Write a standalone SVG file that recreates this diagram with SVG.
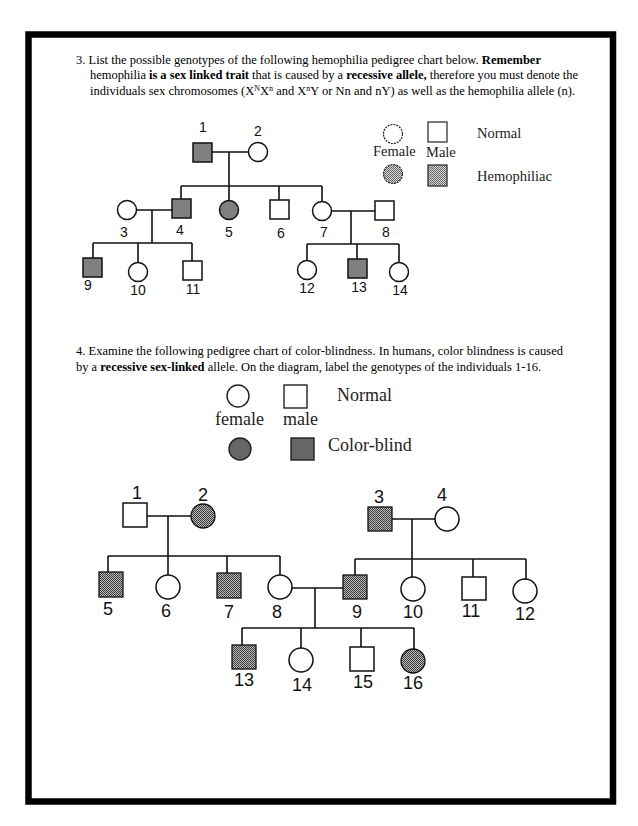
<svg xmlns="http://www.w3.org/2000/svg" width="638" height="826" viewBox="0 0 638 826">
<defs>
<pattern id="stipA" width="2" height="2" patternUnits="userSpaceOnUse"><rect width="2" height="2" fill="#bdbdbd"/><rect width="1" height="1" fill="#3a3a3a"/><rect x="1" y="1" width="1" height="1" fill="#3a3a3a"/></pattern>
<pattern id="stipB" width="2" height="2" patternUnits="userSpaceOnUse"><rect width="2" height="2" fill="#d8d8d8"/><rect width="1" height="1" fill="#666"/><rect x="1" y="1" width="1" height="1" fill="#666"/></pattern>
<style>
.t{font-family:"Liberation Serif","Times New Roman",serif;font-size:12.5px;fill:#000}
.b{font-weight:bold}
.sup{font-size:8px}
.l1{font-family:"Liberation Sans",Arial,sans-serif;font-size:14px;fill:#111;text-anchor:middle}
.l2{font-family:"Liberation Sans",Arial,sans-serif;font-size:18px;fill:#111;text-anchor:middle}
.lg1{font-family:"Liberation Serif","Times New Roman",serif;font-size:14.5px;fill:#222}
.lg2{font-family:"Liberation Serif","Times New Roman",serif;font-size:18px;fill:#222}
.sh{fill:#fff;stroke:#111;stroke-width:1.5}
.hf{fill:#808080;stroke:#111;stroke-width:1.5}
.cb{fill:url(#stipA);stroke:#111;stroke-width:1.3}
.ln{stroke:#111;stroke-width:1.6;fill:none}
</style>
</defs>
<rect width="638" height="826" fill="#fff"/>
<rect x="28.5" y="34.5" width="584.5" height="767" fill="none" stroke="#000" stroke-width="6.5"/>

<g id="q3-text">
<text class="t" x="76" y="64" textLength="465">3. List the possible genotypes of the following hemophilia pedigree chart below. <tspan class="b">Remember</tspan></text>
<text class="t" x="90" y="79" textLength="488">hemophilia <tspan class="b">is a sex linked trait</tspan> that is caused by a <tspan class="b">recessive allele,</tspan> therefore you must denote the</text>
<text class="t" x="90" y="95">individuals sex chromosomes (X<tspan class="sup" dy="-4">N</tspan><tspan dy="4">X</tspan><tspan class="sup" dy="-4">n</tspan><tspan dy="4"> and X</tspan><tspan class="sup" dy="-4">n</tspan><tspan dy="4">Y or Nn and nY) as well as the hemophilia allele (n).</tspan></text>
</g>

<g id="p1-connectors">
<path class="ln" d="M212 152H248.5M229 152V186M181 186H322M181 186V199M229 186V200.5M279 186V200M322 186V201.5"/>
<path class="ln" d="M136.5 210H172M152 210V243M93 243H192M93 243V258M138 243V262.5M192 243V261"/>
<path class="ln" d="M331.5 211H375M351 211V244M307 244H399M307 244V260.5M357 244V259M399 244V262.5"/>
</g>

<g id="p1-n1"><rect class="hf" x="193" y="143" width="19" height="19"/><text class="l1" x="203" y="132">1</text></g>
<g id="p1-n2"><circle class="sh" cx="258" cy="152" r="9.5"/><text class="l1" x="258" y="136">2</text></g>
<g id="p1-n3"><circle class="sh" cx="127" cy="210" r="9.5"/><text class="l1" x="124" y="237">3</text></g>
<g id="p1-n4"><rect class="hf" x="172" y="199" width="19" height="19"/><text class="l1" x="180" y="235">4</text></g>
<g id="p1-n5"><circle class="hf" cx="229" cy="210" r="9.5"/><text class="l1" x="229" y="237">5</text></g>
<g id="p1-n6"><rect class="sh" x="270" y="200" width="19" height="19"/><text class="l1" x="281" y="238">6</text></g>
<g id="p1-n7"><circle class="sh" cx="322" cy="211" r="9.5"/><text class="l1" x="324" y="237">7</text></g>
<g id="p1-n8"><rect class="sh" x="375" y="201" width="19" height="19"/><text class="l1" x="386" y="237">8</text></g>
<g id="p1-n9"><rect class="hf" x="83" y="258" width="19" height="19"/><text class="l1" x="88" y="290">9</text></g>
<g id="p1-n10"><circle class="sh" cx="138" cy="272" r="9.5"/><text class="l1" x="138" y="295">10</text></g>
<g id="p1-n11"><rect class="sh" x="183" y="261" width="19" height="19"/><text class="l1" x="193" y="294">11</text></g>
<g id="p1-n12"><circle class="sh" cx="307" cy="270" r="9.5"/><text class="l1" x="307" y="293">12</text></g>
<g id="p1-n13"><rect class="hf" x="348" y="259" width="19" height="19"/><text class="l1" x="359" y="292">13</text></g>
<g id="p1-n14"><circle class="sh" cx="399" cy="272" r="9.5"/><text class="l1" x="400" y="295">14</text></g>

<g id="legend1">
<circle cx="393" cy="134" r="9.5" fill="#fff" stroke="#222" stroke-width="1.2" stroke-dasharray="2 1"/>
<rect x="428" y="122" width="19" height="20" fill="#fff" stroke="#333" stroke-width="1.3"/>
<text class="lg1" x="477" y="138">Normal</text>
<text class="lg1" x="373" y="156">Female</text>
<text class="lg1" x="426" y="157">Male</text>
<circle cx="393" cy="174" r="9.5" fill="url(#stipB)" stroke="#222" stroke-width="1.2" stroke-dasharray="2 1"/>
<rect x="428" y="165" width="19" height="21" fill="url(#stipB)" stroke="#333" stroke-width="1.3"/>
<text class="lg1" x="477" y="181">Hemophiliac</text>
</g>

<g id="q4-text">
<text class="t" x="76" y="355" textLength="487">4. Examine the following pedigree chart of color-blindness. In humans, color blindness is caused</text>
<text class="t" x="76" y="371" textLength="465">by a <tspan class="b">recessive sex-linked</tspan> allele. On the diagram, label the genotypes of the individuals 1-16.</text>
</g>

<g id="legend2">
<circle cx="238" cy="396" r="11" fill="#fff" stroke="#222" stroke-width="1.4"/>
<rect x="284" y="385" width="23" height="23" fill="#fff" stroke="#222" stroke-width="1.4"/>
<text class="lg2" x="337" y="401">Normal</text>
<text class="lg2" x="215" y="425">female</text>
<text class="lg2" x="283" y="425">male</text>
<circle cx="240" cy="449" r="11" fill="#666" stroke="#222" stroke-width="1.4"/>
<rect x="291" y="438" width="23" height="22" fill="#666" stroke="#222" stroke-width="1.4"/>
<text class="lg2" x="328" y="451">Color-blind</text>
</g>

<g id="p2-connectors">
<path class="ln" d="M147 516H191M168 516V556M108 556H280M108 556V572M168 556V575M227 556V573M280 556V575"/>
<path class="ln" d="M392 519H435M412 519V559M355 559H526M355 559V575M412 559V577M473 559V577M526 559V579"/>
<path class="ln" d="M292 588H343M315 588V628M242 628H414M242 628V645M301 628V648M361 628V647M414 628V649"/>
</g>

<g id="p2-n1"><rect class="sh" x="123" y="503" width="24" height="24"/><text class="l2" x="137" y="499">1</text></g>
<g id="p2-n2"><circle class="cb" cx="203" cy="516" r="12"/><text class="l2" x="203" y="501">2</text></g>
<g id="p2-n3"><rect class="cb" x="368" y="507" width="24" height="24"/><text class="l2" x="379" y="503">3</text></g>
<g id="p2-n4"><circle class="sh" cx="447" cy="519" r="12"/><text class="l2" x="442" y="501">4</text></g>
<g id="p2-n5"><rect class="cb" x="99" y="572" width="24" height="25"/><text class="l2" x="108" y="615">5</text></g>
<g id="p2-n6"><circle class="sh" cx="168" cy="587" r="12"/><text class="l2" x="166" y="617">6</text></g>
<g id="p2-n7"><rect class="cb" x="217" y="573" width="24" height="25"/><text class="l2" x="229" y="618">7</text></g>
<g id="p2-n8"><circle class="sh" cx="280" cy="587" r="12"/><text class="l2" x="277" y="618">8</text></g>
<g id="p2-n9"><rect class="cb" x="343" y="575" width="24" height="24"/><text class="l2" x="357" y="618">9</text></g>
<g id="p2-n10"><circle class="sh" cx="413" cy="589" r="12"/><text class="l2" x="413" y="618">10</text></g>
<g id="p2-n11"><rect class="sh" x="462" y="577" width="24" height="23"/><text class="l2" x="471" y="617">11</text></g>
<g id="p2-n12"><circle class="sh" cx="525" cy="591" r="12"/><text class="l2" x="525" y="620">12</text></g>
<g id="p2-n13"><rect class="cb" x="232" y="645" width="24" height="24"/><text class="l2" x="244" y="686">13</text></g>
<g id="p2-n14"><circle class="sh" cx="301" cy="660" r="12"/><text class="l2" x="302" y="691">14</text></g>
<g id="p2-n15"><rect class="sh" x="350" y="647" width="24" height="24"/><text class="l2" x="363" y="688">15</text></g>
<g id="p2-n16"><circle class="cb" cx="413" cy="661" r="12"/><text class="l2" x="413" y="689">16</text></g>
</svg>
